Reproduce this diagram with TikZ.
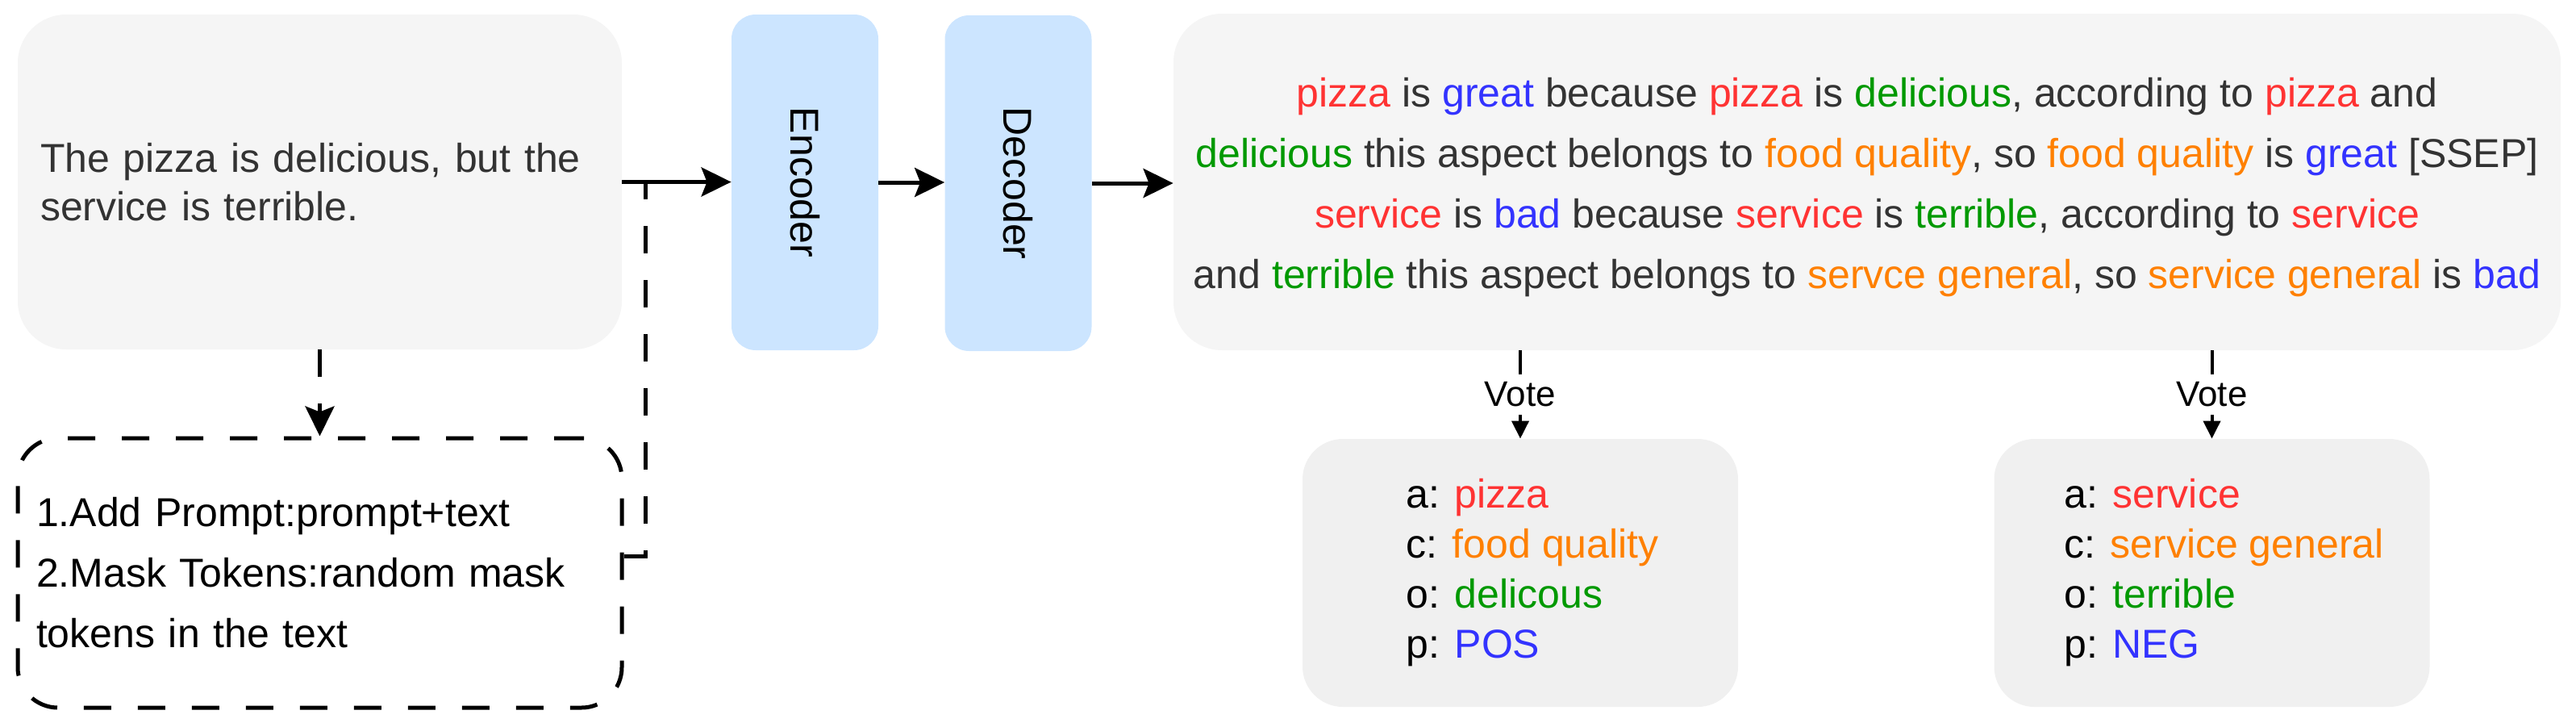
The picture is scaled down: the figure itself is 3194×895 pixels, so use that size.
\documentclass[tikz,border=0pt]{standalone}
\usepackage{fontspec}
\setmainfont{Liberation Sans}
\usetikzlibrary{arrows.meta,positioning}
\definecolor{boxgray}{HTML}{F5F5F5}
\definecolor{votegray}{HTML}{F0F0F0}
\definecolor{blockblue}{HTML}{CCE5FF}
\definecolor{txtgray}{HTML}{333333}
\definecolor{aspred}{HTML}{FF3333}
\definecolor{catorange}{HTML}{FF8000}
\definecolor{opigreen}{HTML}{009900}
\definecolor{polblue}{HTML}{3333FF}
\newcommand{\aspc}[1]{\textcolor{aspred}{#1}}
\newcommand{\catc}[1]{\textcolor{catorange}{#1}}
\newcommand{\opic}[1]{\textcolor{opigreen}{#1}}
\newcommand{\polc}[1]{\textcolor{polblue}{#1}}
\tikzset{
  softbox/.style={fill=boxgray, rounded corners=30pt, inner sep=0pt},
  block/.style={fill=blockblue, rounded corners=15pt, minimum width=91pt, minimum height=208pt, inner sep=0pt, font=\fontsize{25pt}{30pt}\selectfont},
  votebox/.style={fill=votegray, rounded corners=25pt, minimum width=270pt, minimum height=166pt},
  votetext/.style={align=left, inner sep=0pt, font=\fontsize{25pt}{31pt}\selectfont},
  flow/.style={line width=2.5pt, -{Stealth[length=18.5pt,width=18pt,inset=3.5pt]}},
  dashline/.style={line width=2.5pt, dash pattern=on 17pt off 16.5pt},
  voteline/.style={line width=2pt, -{Triangle[length=11pt,width=10.5pt]}},
  votelabel/.style={fill=white, inner xsep=2pt, inner ysep=5pt, font=\fontsize{22pt}{26pt}\selectfont}
}
\begin{document}
\begin{tikzpicture}[x=0.5pt,y=-0.5pt]
\useasboundingbox (0,0) rectangle (3194,895);

\node[softbox, minimum width=374.5pt, minimum height=207.5pt, text width=346.5pt, inner xsep=14pt, align=left, text=txtgray, font=\fontsize{25pt}{30pt}\selectfont] (inp) at (396.5,225.5) {The pizza is delicious, but the\\service is terrible.};

\node[block] (enc) at (998,226) {\rotatebox{-90}{Encoder}};
\node[block] (dec) at (1262.5,227) {\rotatebox{-90}{Decoder}};

\node[softbox, minimum width=860pt, minimum height=208.5pt] (out) at (2315,225.5) {};
\node[align=center, inner sep=0pt, text=txtgray, font=\fontsize{25pt}{37.5pt}\selectfont] (outtxt) at ([yshift=-3.5pt]out.center) {%
\aspc{pizza} is \polc{great} because \aspc{pizza} is \opic{delicious}, according to \aspc{pizza} and\\
\opic{delicious} this aspect belongs to \catc{food quality}, so \catc{food quality} is \polc{great} [SSEP]\\
\aspc{service} is \polc{bad} because \aspc{service} is \opic{terrible}, according to \aspc{service}\\
and \opic{terrible} this aspect belongs to \catc{servce general}, so \catc{service general} is \polc{bad}};

\node[draw, dashline, rounded corners=25pt, minimum width=374.5pt, minimum height=167pt, text width=351.5pt, inner xsep=11.5pt, align=left, font=\fontsize{25pt}{37.5pt}\selectfont] (prm) at (396.5,710) {1.Add Prompt:prompt+text\\2.Mask Tokens:random mask\\tokens in the text};

\node[votebox] (voteA) at (1885,710) {};
\node[votebox] (voteB) at (2742.5,710) {};
\node[votetext] (txtA) at ([xshift=7.5pt]voteA.center) {a: \aspc{pizza}\\c: \catc{food quality}\\o: \opic{delicous}\\p: \polc{POS}};
\node[votetext] (txtB) at ([xshift=7.5pt]voteB.center) {a: \aspc{service}\\c: \catc{service general}\\o: \opic{terrible}\\p: \polc{NEG}};

\foreach \a/\b in {inp/enc,enc/dec,dec/out}
  \draw[flow] (\a.east) -- (\a.east -| \b.west);

\coordinate (join) at (800,226);
\draw[dashline, -{Stealth[length=18.5pt,width=18pt,inset=3.5pt]}] (inp) -- (prm);
\draw[dashline] ([yshift=10.5pt]prm.east) -| (join);

\foreach \v in {voteA,voteB}
  \draw[voteline] (out.south -| \v.north) -- node[votelabel] (lbl\v) {Vote} (\v.north);
\end{tikzpicture}
\end{document}
